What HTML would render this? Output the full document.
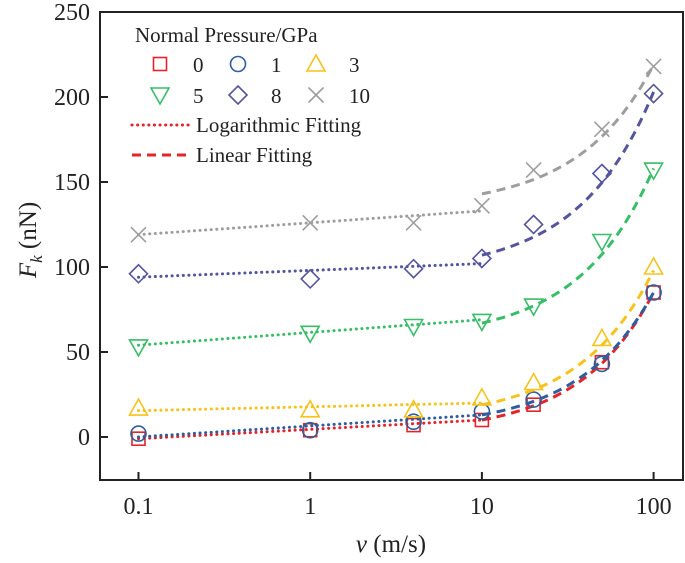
<!DOCTYPE html>
<html><head><meta charset="utf-8"><style>
body{margin:0;background:#fff;}
svg text{font-family:"Liberation Serif",serif;fill:#222;}
</style></head><body>
<svg id="c" width="685" height="558" xmlns="http://www.w3.org/2000/svg"></svg>
<script>
const velocities=[0.1,1,4,10,20,50,100];
const pressures=["0","1","3","5","8","10"];
const fk0=[-1,4,7,10,19,44,85];
const fk1=[2,4,9,15,22,43,85];
const fk3=[17,16,16,23,32,58,100];
const fk5=[53,61,65,68,77,115,157];
const fk8=[96,93,99,105,125,155,202];
const fk10=[119,126,126,136,157,181,218];
const logA=[4.5,6.5,17.75,61.5,98,126];
const logB=[5.5,6.5,2.25,7.5,4,7];
const linC=[1.67,5,10.2,56.9,96.3,134.6];
const linD=[0.833,0.8,0.878,1.011,1.067,0.844];
const xTicks=[0.1,1,10,100];
const xTickLabels=["0.1","1","10","100"];
const yTicks=[0,50,100,150,200,250];

const series=[fk0,fk1,fk3,fk5,fk8,fk10];
const colors=["#e4232a","#2e5e9c","#f6c31c","#38bd68","#55559e","#9e9e9e"];
const markers=["square","circle","tri","itri","diamond","x"];
const NS="http://www.w3.org/2000/svg";
const svg=document.getElementById('c');
const X0=100,X1=683,Y0=480,Y1=12;
const xs=v=>138.5+(Math.log10(v)+1)*171.7;
const ys=f=>437-f*1.7;
function mk(t,a,p){const e=document.createElementNS(NS,t);for(const k in a)e.setAttribute(k,a[k]);(p||svg).appendChild(e);return e;}
function marker(type,x,y,col,g){
  const s=7.5;let e;
  if(type=="square")e=mk('rect',{x:x-6.5,y:y-6.5,width:13,height:13,fill:'none',stroke:col,'stroke-width':1.6},g);
  else if(type=="circle")e=mk('circle',{cx:x,cy:y,r:7.5,fill:'none',stroke:col,'stroke-width':1.6},g);
  else if(type=="tri")e=mk('polygon',{points:`${x},${y-9} ${x-9},${y+7} ${x+9},${y+7}`,fill:'none',stroke:col,'stroke-width':1.6},g);
  else if(type=="itri")e=mk('polygon',{points:`${x},${y+9} ${x-9},${y-7} ${x+9},${y-7}`,fill:'none',stroke:col,'stroke-width':1.6},g);
  else if(type=="diamond")e=mk('polygon',{points:`${x},${y-9} ${x+9},${y} ${x},${y+9} ${x-9},${y}`,fill:'none',stroke:col,'stroke-width':1.6},g);
  else e=mk('path',{d:`M${x-s},${y-s}L${x+s},${y+s}M${x-s},${y+s}L${x+s},${y-s}`,fill:'none',stroke:col,'stroke-width':1.6},g);
  
  
  return e;
}
// axes
const ax=mk('rect',{x:X0,y:Y1,width:X1-X0,height:Y0-Y1,fill:'none',stroke:'#222','stroke-width':2});


xTicks.forEach((v,i)=>{
  const t=mk('line',{x1:xs(v),x2:xs(v),y1:Y0,y2:Y0-8,stroke:'#222','stroke-width':2});
  
  
  const l=mk('text',{x:xs(v),y:Y0+34,'font-size':24,'text-anchor':'middle'});l.textContent=xTickLabels[i];
  
  
});
yTicks.forEach(v=>{
  const t=mk('line',{x1:X0,x2:X0+8,y1:ys(v),y2:ys(v),stroke:'#222','stroke-width':2});
  
  
  const l=mk('text',{x:X0-10,y:ys(v)+8,'font-size':24,'text-anchor':'end'});l.textContent=v;
  
  
});
const xt=mk('text',{x:391,y:552,'font-size':25,'text-anchor':'middle'});
xt.innerHTML='<tspan font-style="italic">v</tspan> (m/s)';


const yt=mk('text',{x:0,y:0,'font-size':25,'text-anchor':'middle',transform:'translate(36,240) rotate(-90)'});
yt.innerHTML='<tspan font-style="italic">F</tspan><tspan font-style="italic" font-size="17" dy="6">k</tspan><tspan dy="-6"> (nN)</tspan>';


// fits & points
series.forEach((d,i)=>{
  const g=mk('g',{});
  
  
  let p='';
  for(let k=0;k<=40;k++){const lv=-1+2*k/40;const v=Math.pow(10,lv);p+=(k?'L':'M')+xs(v).toFixed(1)+','+ys(logA[i]+logB[i]*lv).toFixed(1);}
  const lf=mk('path',{d:p,fill:'none',stroke:colors[i],'stroke-width':3,'stroke-dasharray':'0.1 5.5','stroke-linecap':'round'},g);
  
  
  p='';
  for(let k=0;k<=40;k++){const lv=1+k/40;const v=Math.pow(10,lv);p+=(k?'L':'M')+xs(v).toFixed(1)+','+ys(linC[i]+linD[i]*v).toFixed(1);}
  const nf=mk('path',{d:p,fill:'none',stroke:colors[i],'stroke-width':3,'stroke-dasharray':'9 6'},g);
  
  
  d.forEach((f,j)=>marker(markers[i],xs(velocities[j]),ys(f),colors[i],g));
});
// legend
const lg=mk('g',{});


const lt=mk('text',{x:135,y:42,'font-size':21},lg);lt.textContent='Normal Pressure/GPa';
const pos=[[160,64],[238,64],[316,64],[160,95],[238,95],[316,95]];
pressures.forEach((p,i)=>{
  marker(markers[i],pos[i][0],pos[i][1],colors[i],lg);
  const t=mk('text',{x:pos[i][0]+33,y:pos[i][1]+8,'font-size':21},lg);t.textContent=p;
  
  
});
mk('line',{x1:132,x2:192,y1:125,y2:125,stroke:'#e4232a','stroke-width':3,'stroke-dasharray':'0.1 5.5','stroke-linecap':'round'},lg);
const t1=mk('text',{x:196,y:132,'font-size':21},lg);t1.textContent='Logarithmic Fitting';
mk('line',{x1:132,x2:192,y1:155,y2:155,stroke:'#e4232a','stroke-width':3,'stroke-dasharray':'9 6'},lg);
const t2=mk('text',{x:196,y:162,'font-size':21},lg);t2.textContent='Linear Fitting';
</script>
</body></html>
